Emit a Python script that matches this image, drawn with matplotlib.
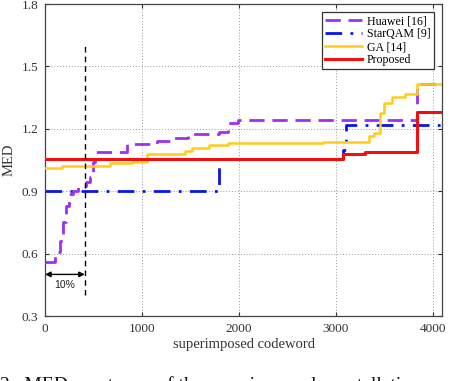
import numpy as np
import matplotlib
matplotlib.use("Agg")
import matplotlib.pyplot as plt

# step curves (x = codeword index where the new level starts)
huawei_x = [0, 100, 150, 190, 220, 245, 290, 340, 420, 460, 490, 515, 845,
            1155, 1290, 1480, 1790, 1890, 1990, 3840, 4096]
huawei_y = [0.56, 0.61, 0.66, 0.75, 0.83, 0.885, 0.90, 0.925, 0.945, 0.97, 1.04,
            1.09, 1.125, 1.143, 1.157, 1.173, 1.185, 1.228, 1.24, 1.416, 1.416]

starqam_x = [0, 1790, 3071, 3106, 4096]
starqam_y = [0.90, 1.055, 1.10, 1.217, 1.217]

ga_x = [0, 170, 670, 900, 1050, 1440, 1520, 1690, 1890, 2870, 3340, 3390,
        3454, 3495, 3582, 3719, 3840, 4096]
ga_y = [1.012, 1.02, 1.035, 1.04, 1.078, 1.095, 1.11, 1.12, 1.13, 1.135, 1.165,
        1.18, 1.275, 1.323, 1.352, 1.368, 1.416, 1.416]

prop_x = [0, 3071, 3306, 3840, 4096]
prop_y = [1.057, 1.08, 1.088, 1.28, 1.28]

xticks = [0, 1000, 2000, 3000, 4000]
yticks = [0.3, 0.6, 0.9, 1.2, 1.5, 1.8]
marker_x = 410  # 10 % of 4096

plt.rcParams["font.family"] = ["Liberation Serif", "DejaVu Serif"]

fig = plt.figure(figsize=(4.74, 3.81), dpi=100)
ax = fig.add_axes([0.095, 0.1706, 0.8375, 0.8189])

ax.step(huawei_x, huawei_y, where="post", color="#A030F0", lw=2.0,
        dashes=(5.5, 2.8), label="Huawei [16]", zorder=3)
ax.step(starqam_x, starqam_y, where="post", color="#0A14E6", lw=2.0,
        dashes=(6, 3, 1, 3), label="StarQAM [9]", zorder=2)
ax.step(ga_x, ga_y, where="post", color="#FFCC1A", lw=1.8,
        label="GA [14]", zorder=4)
ax.step(prop_x, prop_y, where="post", color="#F01010", lw=2.2,
        label="Proposed", zorder=5)

# 10% marker
ax.plot([marker_x, marker_x], [0.4, 1.6], color="k", lw=1.0, dashes=(4, 3), zorder=6)
ax.annotate("", xy=(0, 0.5), xytext=(marker_x, 0.5),
            arrowprops=dict(arrowstyle="<|-|>", color="k", lw=1.0,
                            mutation_scale=8, shrinkA=0, shrinkB=0))
ax.text(200, 0.447, "10%", ha="center", va="center", fontsize=7.5,
        family=["Liberation Sans", "DejaVu Sans"], color="#222222")

ax.set_xlim(0, 4096)
ax.set_ylim(0.3, 1.8)
ax.set_xticks(xticks)
ax.set_yticks(yticks)
ax.set_yticklabels([f"{v:.1f}" for v in yticks])
ax.tick_params(direction="in", top=True, right=True, labelsize=9.5,
               colors="#333333", length=3, pad=5)
ax.grid(True, color="#999999", linestyle=(0, (1, 2)), lw=0.7)
for s in ax.spines.values():
    s.set_color("#444444")
    s.set_linewidth(0.9)

ax.set_xlabel("superimposed codeword", fontsize=10.5, color="#333333", labelpad=2)
ax.set_ylabel("MED", fontsize=10.5, color="#333333", labelpad=4)

leg = ax.legend(loc="upper right", fontsize=8.6, handlelength=3.1, fancybox=False,
                framealpha=1, edgecolor="#333333", borderpad=0.25, labelspacing=0.08,
                handletextpad=0.4, borderaxespad=0.7)
leg.get_frame().set_linewidth(0.9)

fig.text(0.0, 0.013, "2.  MED spectrums of the superimposed constellations",
         ha="left", va="top", fontsize=14, color="#111111")

fig.savefig("out.png", dpi=100)
